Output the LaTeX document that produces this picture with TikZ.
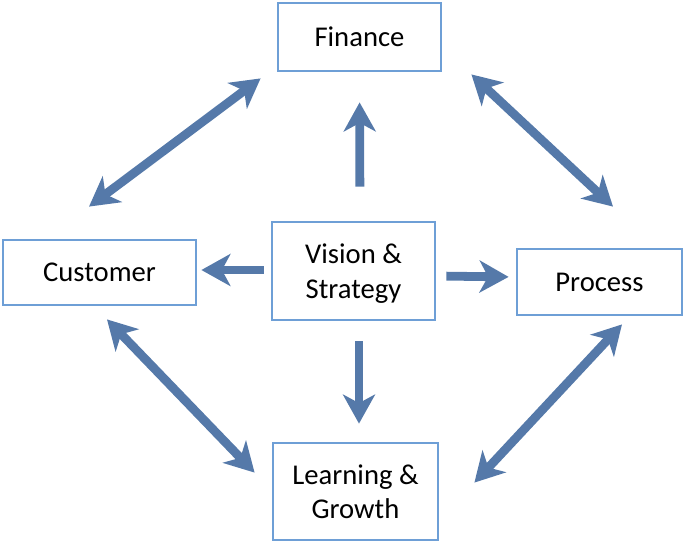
\documentclass[tikz,border=0pt]{standalone}
\usepackage{fontspec}
\setmainfont{Carlito}
\usepackage{xcolor}
\usepackage{tikz}
\usetikzlibrary{arrows.meta,positioning}
\definecolor{boxblue}{HTML}{6E9FD6}
\definecolor{arrowblue}{HTML}{5579A9}

\begin{document}
\begin{tikzpicture}[
    box/.style={draw=boxblue,line width=1.6pt,fill=white,align=center,
        font=\fontsize{16.3}{19.6}\selectfont,text=black,inner sep=0pt},
    flow/.style={arrowblue,line width=5pt,-{Stealth[length=0.58cm,width=0.64cm,inset=0.17cm]}},
    twoway/.style={arrowblue,line width=5pt,{Stealth[length=0.58cm,width=0.64cm,inset=0.17cm]}-{Stealth[length=0.58cm,width=0.64cm,inset=0.17cm]}}]
    \useasboundingbox (0,0) rectangle (13.7,-10.9);
    \node[box,minimum width=3.26cm,minimum height=1.96cm,text depth=-0.1cm] (vision) at (7.07,-5.42) {Vision \&\\Strategy};
    \node[box,minimum width=3.26cm,minimum height=1.36cm] (finance) at (7.19,-0.74) {Finance};
    \node[box,minimum width=3.86cm,minimum height=1.3cm] (customer) at (1.99,-5.45) {Customer};
    \node[box,minimum width=3.3cm,minimum height=1.32cm] (process) at (11.99,-5.64) {Process};
    \node[box,minimum width=3.3cm,minimum height=1.94cm] (learning) at (7.11,-9.83) {Learning \&\\Growth};
    \draw[flow,shorten <=0.68cm,shorten >=0.6cm] ([xshift=0.13cm]vision.north) -- (finance.south);
    \draw[flow,shorten <=0.4cm,shorten >=0.36cm] ([xshift=0.11cm]vision.south) -- ([xshift=0.07cm]learning.north);
    \draw[flow,shorten <=0.14cm,shorten >=0.08cm] ([yshift=0.02cm]vision.west) -- ([yshift=0.05cm]customer.east);
    \draw[flow,shorten <=0.2cm,shorten >=0.14cm] ([yshift=-0.1cm]vision.east) -- ([yshift=0.1cm]process.west);
    \draw[twoway] ([shift={(-0.32,-0.12)}]finance.south west) -- ([shift={(-0.21,0.64)}]customer.north);
    \draw[twoway] ([shift={(0.58,-0.04)}]finance.south east) -- ([shift={(0.27,0.82)}]process.north);
    \draw[twoway] ([shift={(0.15,-0.26)}]customer.south) -- ([shift={(-0.34,-0.62)}]learning.north west);
    \draw[twoway] ([shift={(0.45,-0.16)}]process.south) -- ([shift={(0.7,-0.82)}]learning.north east);
\end{tikzpicture}
\end{document}
